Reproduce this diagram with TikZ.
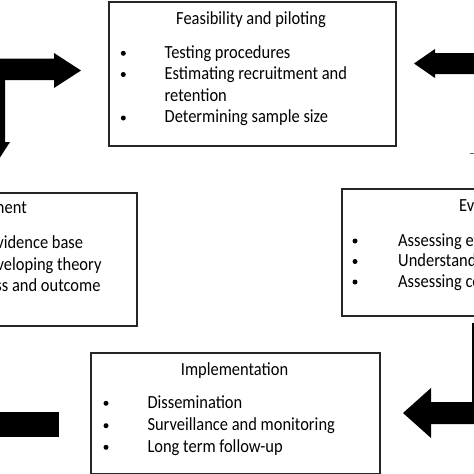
\documentclass[tikz,border=0pt]{standalone}
\usepackage{fontspec}
\setmainfont{Carlito}[FakeStretch=0.89]
\begin{document}
\begin{tikzpicture}[x=1pt,y=-1pt,
  box/.style={draw=black!85, line width=1.5pt, fill=white, anchor=north west, inner sep=0pt},
  txt/.style={anchor=base west, inner sep=0pt, font=\fontsize{18.5}{22}\selectfont},
  rtxt/.style={anchor=base east, inner sep=0pt, font=\fontsize{18.5}{22}\selectfont},
  dot/.style={circle, fill=black, inner sep=0pt, minimum size=5pt},
  blockarrow/.style={fill=black}]
\useasboundingbox (0,0) rectangle (474,474);
\clip (0,0) rectangle (474,474);
\fill[white] (0,0) rectangle (474,474);

% boxes
\node[box, minimum width=287pt, minimum height=144pt] (feas) at (108,1) {};
\node[box, minimum width=307pt, minimum height=133pt] (devel) at (-171,192) {};
\node[box, minimum width=150pt, minimum height=127pt] (eval) at (341,188) {};
\node[box, minimum width=289pt, minimum height=121pt] (impl) at (90,352) {};

% Feasibility
\node[txt] (ftitle) at (176,24.3) {Feasibility and piloting};
\node[dot] (fb1) at (123.3,53.3) {};
\node[dot] (fb2) at (123.3,74.5) {};
\node[dot] (fb3) at (123.3,118) {};
\node[txt] (ft1) at (164.5,58.3) {Testing procedures};
\node[txt] (ft2) at (164.5,79.5) {Estimating recruitment and};
\node[txt] (ft2b) at (164.5,101) {retention};
\node[txt] (ft3) at (164.5,122.5) {Determining sample size};

% Development
\node[rtxt] (dtitle) at (27,213) {Development};
\node[rtxt] (dt1) at (83.3,248.3) {Identifying the evidence base};
\node[rtxt] (dt2) at (101.7,270) {Identifying/developing theory};
\node[rtxt] (dt3) at (100.7,291.5) {Modelling process and outcome};

% Evaluation
\node[txt] (etitle) at (459,211) {Evaluation};
\node[dot] (eb1) at (355,241) {};
\node[dot] (eb2) at (355,261.5) {};
\node[dot] (eb3) at (355,282) {};
\node[txt] (et1) at (398,246) {Assessing effectiveness};
\node[txt] (et2) at (398,266.5) {Understanding change process};
\node[txt] (et3) at (398,287) {Assessing cost-effectiveness};

% Implementation
\node[txt] (ititle) at (180.7,375) {Implementation};
\node[dot] (ib1) at (106,403.3) {};
\node[dot] (ib2) at (106,425.7) {};
\node[dot] (ib3) at (106,447.3) {};
\node[txt] (it1) at (147.3,408.3) {Dissemination};
\node[txt] (it2) at (147.3,430.7) {Surveillance and monitoring};
\node[txt] (it3) at (147.3,452.3) {Long term follow-up};

% block arrows
\fill[blockarrow] (-30,58.5) -- (54,58.5) -- (54,53) -- (81,70.5) -- (54,88) -- (54,80)
  -- (5,80) -- (5,142) -- (10,142) -- (-5.5,166) -- (-21,142) -- (-30,142) -- cycle;
\fill[blockarrow] (414,63.5) -- (435,49) -- (435,53) -- (480,53) -- (480,74) -- (435,74) -- (435,78) -- cycle;
\fill[black!60] (470,152.5) rectangle (474,154);
\fill[blockarrow] (403,413) -- (431,388) -- (431,402) -- (472,402) -- (472,323) -- (495,323)
  -- (495,424) -- (431,424) -- (431,438) -- cycle;
\fill[blockarrow] (-10,412) rectangle (59,437);
\end{tikzpicture}
\end{document}
